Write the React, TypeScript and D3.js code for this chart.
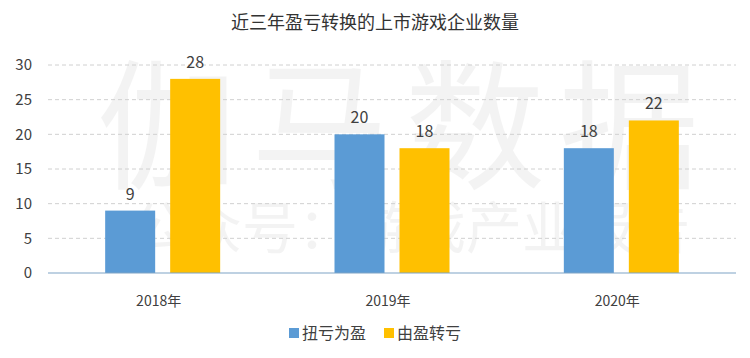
import React from "react";
import * as d3 from "d3";

const categories = ["2018年", "2019年", "2020年"];
const seriesNames = ["扭亏为盈", "由盈转亏"];
const turnProfit = [9, 20, 18];
const turnLoss = [28, 18, 22];
const yTicks = [0, 5, 10, 15, 20, 25, 30];
const colors = ["#5B9BD5", "#FFC000"];
const title = "近三年盈亏转换的上市游戏企业数量";

const W = 750, H = 358;
const M = { left: 48, right: 14, top: 65, bottom: 85 };
const FONT = "'Noto Sans CJK SC', 'Noto Sans', sans-serif";

export default function App() {
  const x = d3.scaleBand().domain(categories).range([M.left, W - M.right]);
  const y = d3.scaleLinear().domain([0, 30]).range([H - M.bottom, M.top]);
  const barW = 50;
  const gap = 15;
  const series = [turnProfit, turnLoss];
  return (
    <svg width={W} height={H} style={{ position: "absolute", left: 0, top: 0, background: "#fff" }}>
      <text x={375} y={29} textAnchor="middle" fontFamily={FONT} fontSize={18} fill="#333">{title}</text>
      {/* watermark */}
      <g fontFamily={FONT} fill="#000" opacity={0.045}>
        <text x={405} y={178} textAnchor="middle" fontSize={140} letterSpacing={14}>伽马数据</text>
        <text x={410} y={248} textAnchor="middle" fontSize={56}>公众号：游戏产业报告</text>
      </g>
      {yTicks.map(t => (
        <g key={t}>
          {t > 0 && <line x1={M.left} x2={W - M.right} y1={y(t)} y2={y(t)} stroke="#d0d0d0" strokeDasharray="4,3" />}
          <text x={32} y={y(t)} dy="0.35em" textAnchor="end" fontFamily={FONT} fontSize={15} fill="#404040">{t}</text>
        </g>
      ))}
      {categories.map((c, i) => {
        const cx = x(c)! + x.bandwidth() / 2;
        return (
          <g key={c}>
            {series.map((s, j) => {
              const bx = j === 0 ? cx - gap / 2 - barW : cx + gap / 2;
              return (
                <g key={j}>
                  <rect x={bx} y={y(s[i])} width={barW} height={y(0) - y(s[i])} fill={colors[j]} />
                  <text x={bx + barW / 2} y={y(s[i]) - 11} textAnchor="middle" fontFamily={FONT} fontSize={16} fill="#404040">{s[i]}</text>
                </g>
              );
            })}
            <text x={cx - 4} y={y(0) + 33} textAnchor="middle" fontFamily={FONT} fontSize={14} fill="#404040">{c}</text>
          </g>
        );
      })}
      <line x1={M.left} x2={W - M.right} y1={y(0)} y2={y(0)} stroke="#7FA3C6" strokeWidth={1.2} />
      {seriesNames.map((n, j) => {
        const lx = 289 + j * 95;
        return (
          <g key={n}>
            <rect x={lx} y={328} width={10} height={10} fill={colors[j]} />
            <text x={lx + 13} y={333} dy="0.35em" fontFamily={FONT} fontSize={16} fill="#404040">{n}</text>
          </g>
        );
      })}
    </svg>
  );
}
